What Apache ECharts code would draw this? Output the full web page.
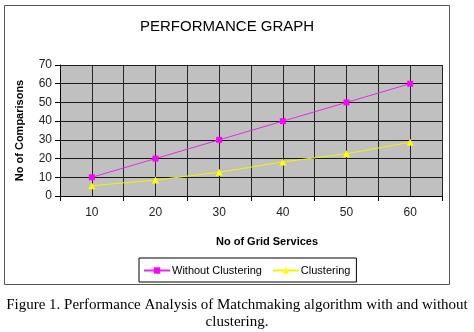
<!DOCTYPE html>
<html>
<head>
<meta charset="utf-8">
<style>
  html, body { margin: 0; padding: 0; background: #fff; }
  #chart { width: 474px; height: 332px; }
</style>
<script src="https://cdn.jsdelivr.net/npm/echarts@6/dist/echarts.min.js"></script>
</head>
<body>
<div id="chart"></div>
<script>
// Number of grid services on the x axis
const categories = ['10', '20', '30', '40', '50', '60'];
// Comparisons needed by each matchmaking variant
const withoutClustering = [10, 20, 30, 40, 50, 60];
const withClustering = [5.5, 8.5, 12.7, 18.2, 22.6, 28.7];
// Y axis range
const yTicks = [0, 10, 20, 30, 40, 50, 60, 70];

const chart = echarts.init(document.getElementById('chart'), null, { renderer: 'canvas' });

const serif = 'Liberation Serif, Times New Roman, serif';
const sans = 'Liberation Sans, Arial, sans-serif';

const option = {
  animation: false,
  backgroundColor: '#ffffff',
  textStyle: { fontFamily: sans },
  title: [
    {
      text: 'PERFORMANCE GRAPH',
      left: 140,
      top: 19,
      padding: 0,
      textStyle: { fontSize: 15, fontWeight: 'normal', color: '#000', fontFamily: sans }
    },
    {
      text: 'Figure 1. Performance Analysis of Matchmaking algorithm with and without',
      left: 'center',
      top: 298,
      padding: 0,
      textStyle: { fontSize: 15, fontWeight: 'normal', color: '#000', fontFamily: serif }
    },
    {
      text: 'clustering.',
      left: 'center',
      top: 315,
      padding: 0,
      textStyle: { fontSize: 15, fontWeight: 'normal', color: '#000', fontFamily: serif }
    }
  ],
  graphic: [
    {
      type: 'rect',
      shape: { x: 4.5, y: 5.5, width: 445, height: 279 },
      style: { fill: 'none', stroke: '#555', lineWidth: 1 },
      silent: true
    }
  ],
  legend: {
    left: 139,
    top: 258,
    padding: [7, 6, 6, 4],
    itemGap: 10,
    itemWidth: 26,
    itemHeight: 8,
    backgroundColor: '#fff',
    borderColor: '#000',
    borderWidth: 1,
    borderRadius: 0,
    textStyle: { fontSize: 11, color: '#000', padding: [0, 0, 0, -3] },
    data: ['Without Clustering', 'Clustering']
  },
  grid: {
    left: 60,
    right: 32,
    top: 65,
    bottom: 136,
    show: true,
    backgroundColor: '#c0c0c0',
    borderWidth: 0
  },
  xAxis: [
    {
      type: 'category',
      data: categories,
      boundaryGap: true,
      position: 'bottom',
      name: 'No of Grid Services',
      nameLocation: 'middle',
      nameGap: 40,
      nameTextStyle: { fontSize: 11, fontWeight: 'bold', color: '#000', padding: [0, 0, 0, 32] },
      axisLine: { lineStyle: { color: '#000', width: 1 } },
      axisTick: { show: true, length: 5, lineStyle: { color: '#000' } },
      axisLabel: { fontSize: 12, color: '#222', margin: 11 },
      splitLine: { show: false }
    },
    {
      // helper axis that only draws the vertical grid lines
      type: 'value',
      min: 5,
      max: 65,
      interval: 5,
      position: 'bottom',
      axisLine: { show: false },
      axisTick: { show: false },
      axisLabel: { show: false },
      splitLine: { show: true, lineStyle: { color: '#262626', width: 1 } }
    }
  ],
  yAxis: {
    type: 'value',
    min: yTicks[0],
    max: yTicks[yTicks.length - 1],
    interval: 10,
    name: 'No of Comparisons',
    nameLocation: 'middle',
    nameGap: 35,
    nameTextStyle: { fontSize: 11, fontWeight: 'bold', color: '#000' },
    axisLine: { show: true, lineStyle: { color: '#000', width: 1 } },
    axisTick: { show: true, length: 5, lineStyle: { color: '#000' } },
    axisLabel: { fontSize: 12, color: '#222', margin: 8 },
    splitLine: { show: true, lineStyle: { color: '#1a1a1a', width: 1 } }
  },
  series: [
    {
      name: 'Without Clustering',
      type: 'line',
      xAxisIndex: 0,
      data: withoutClustering,
      symbol: 'rect',
      symbolSize: 6,
      itemStyle: { color: '#ff00ff' },
      lineStyle: { color: '#e030e0', width: 1 },
      z: 3
    },
    {
      name: 'Clustering',
      type: 'line',
      xAxisIndex: 0,
      data: withClustering,
      symbol: 'triangle',
      symbolSize: 7,
      itemStyle: { color: '#ffff00' },
      lineStyle: { color: '#f4f400', width: 1 },
      z: 3
    }
  ]
};

chart.setOption(option);
</script>
</body>
</html>
